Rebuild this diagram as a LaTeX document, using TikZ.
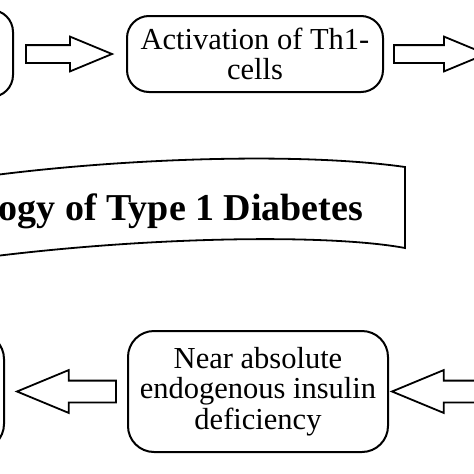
\documentclass[tikz,border=0pt]{standalone}
\usepackage{fontspec}
\setmainfont{Liberation Serif}
\usetikzlibrary{shapes.arrows}
\tikzstyle{stage}=[draw, line width=2pt, rounded corners=22pt, align=center, inner sep=0pt, font=\fontsize{30.5}{30.5}\selectfont]
\tikzstyle{flow}=[draw, line width=1.8pt, single arrow, single arrow tip angle=45, inner sep=0pt, outer sep=0pt]
\tikzstyle{flow top}=[flow, inner ysep=8pt, single arrow head extend=8.5pt]
\tikzstyle{flow bottom}=[flow, inner ysep=10pt, single arrow head extend=10.5pt, shape border rotate=180]

\begin{document}
\begin{tikzpicture}[x=1pt,y=-1pt]
    \useasboundingbox (0,0) rectangle (474,474);
    \clip (0,0) rectangle (474,474);

    % Boxes
    \node[stage, minimum width=140pt, minimum height=87pt, anchor=east] (trigger) at (14,53.5) {};
    \node[stage, minimum width=256pt, minimum height=76pt] (act) at (255,54) {Activation of Th1-\\cells};
    \node[stage, rounded corners=26pt, minimum width=260pt, minimum height=121pt] (defic) at (258,391.5) {Near absolute\\endogenous insulin\\deficiency};
    \node[stage, rounded corners=26pt, minimum width=140pt, minimum height=117pt, anchor=east] (onset) at (5,391.5) {};

    % Banner
    \draw[line width=1.8pt, fill=white] (-20,177) .. controls (120,158) and (300,152) .. (405,167)
        -- (405,248) .. controls (330,234) and (150,236) .. (-20,258) -- cycle;
    \node[anchor=base west, inner sep=0pt, font=\fontsize{38}{40}\selectfont\bfseries] (title) at (-1.5,220) {ogy of Type 1 Diabetes};

    % Arrows
    \node[flow top, anchor=tip, minimum height=86pt] (a1) at ([xshift=-14pt]act.west) {};
    \node[flow top, anchor=tail, minimum height=92pt] (a2) at ([xshift=10pt]act.east) {};
    \node[flow bottom, anchor=tail, minimum height=99pt] (a3) at ([xshift=-11pt]defic.west) {};
    \node[flow bottom, anchor=tip, minimum height=110pt] (a4) at ([xshift=3pt]defic.east) {};

\end{tikzpicture}
\end{document}
